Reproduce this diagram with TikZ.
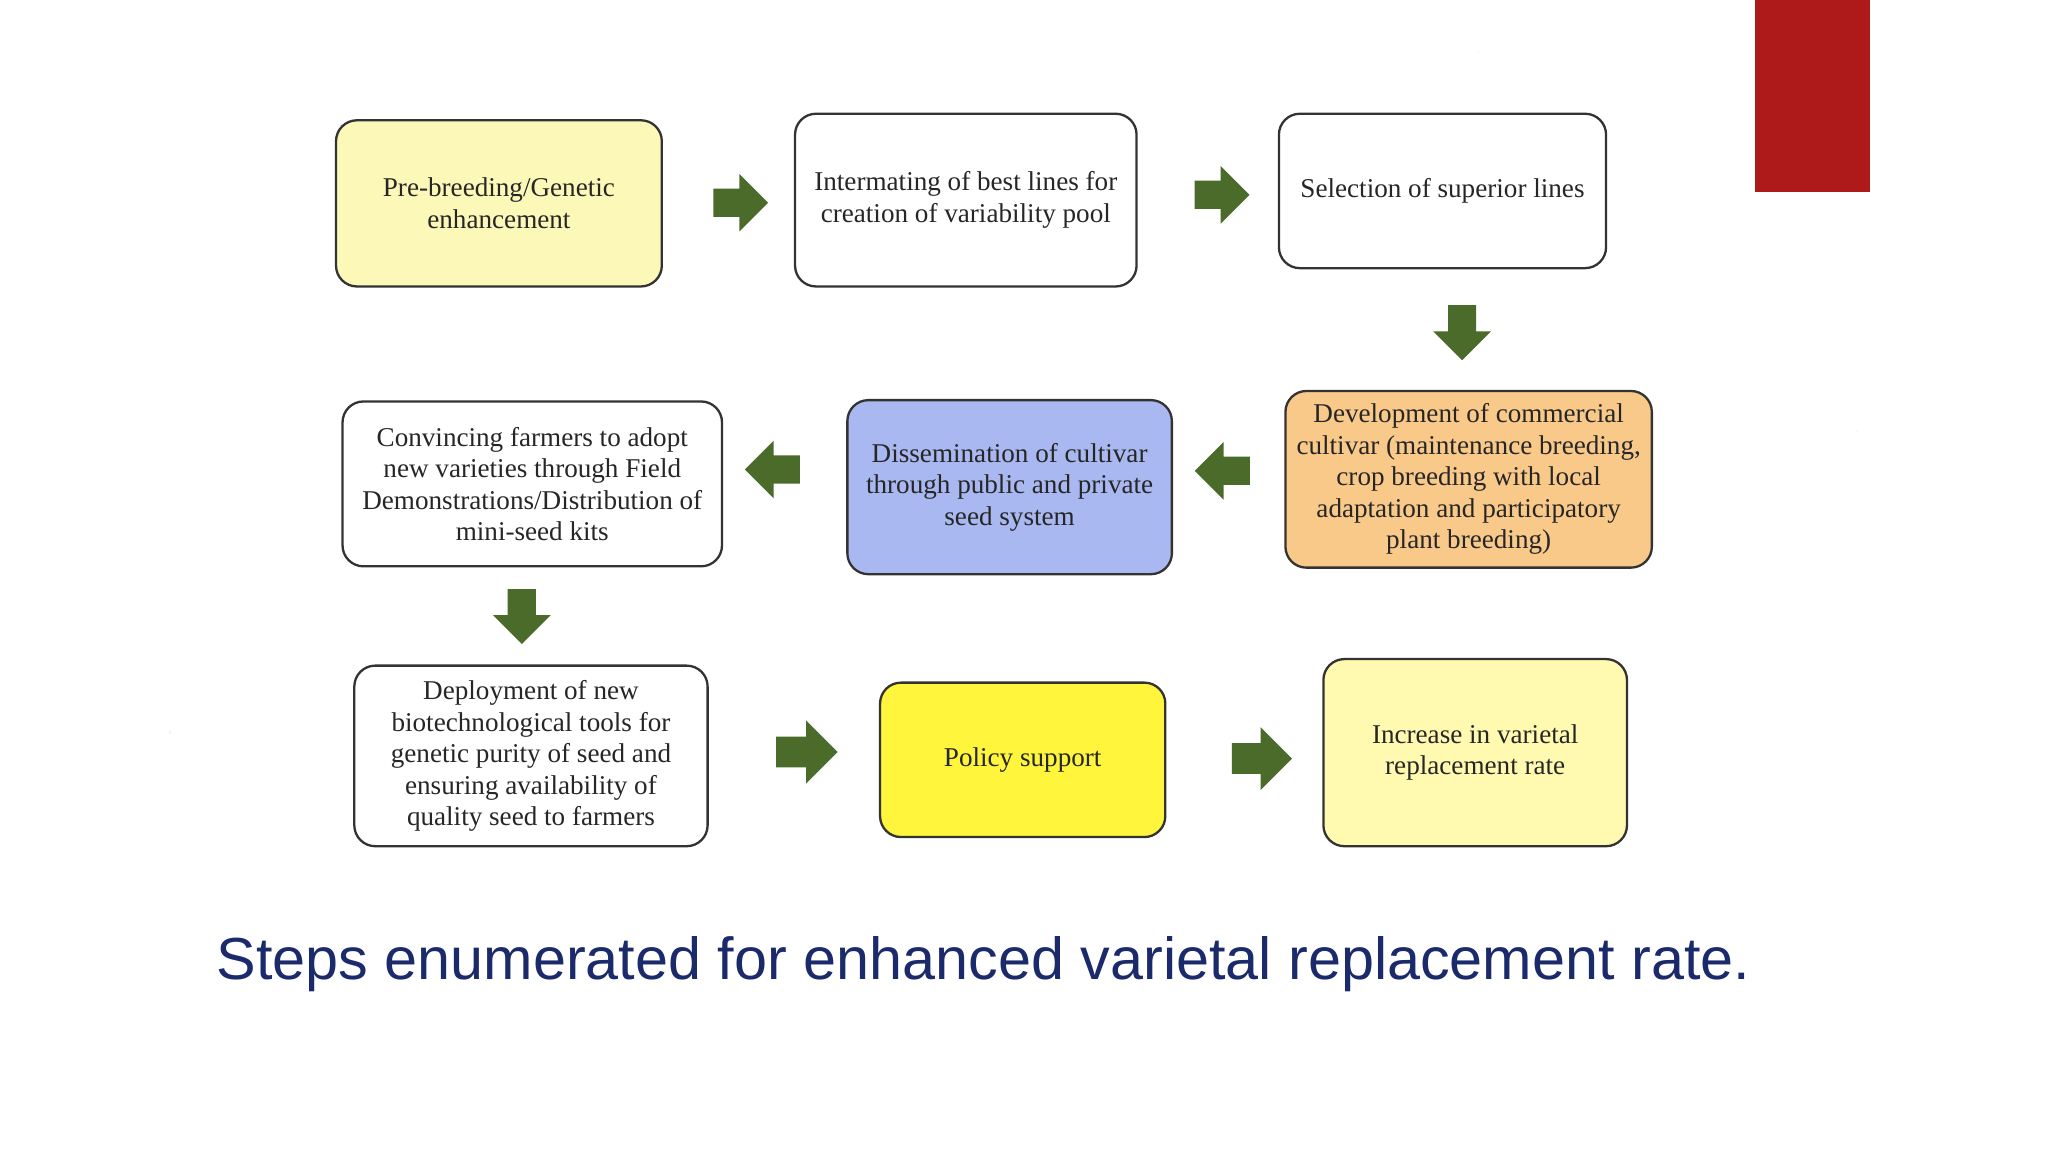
\documentclass[tikz,border=0pt]{standalone}
\usepackage{fontspec}
\setmainfont{Liberation Serif}
\newfontfamily\capfont{Liberation Sans}
\usetikzlibrary{shapes.arrows}
\definecolor{agreen}{HTML}{4A6B2A}
\definecolor{ylight}{HTML}{FCF8B8}
\definecolor{yvlight}{HTML}{FFFAB0}
\definecolor{ybright}{HTML}{FFF53C}
\definecolor{oran}{HTML}{F9C98A}
\definecolor{blu}{HTML}{A9B8F0}
\definecolor{capblue}{HTML}{1B2A6B}
\definecolor{redbar}{HTML}{AE1A1A}
\tikzset{
 stepbox/.style={draw=black!80, line width=0.5pt, rounded corners=1.6mm, align=center, inner sep=0pt, font=\fontsize{5.9}{6.85}\selectfont, text=black!85},
 garrow/.style={single arrow, fill=agreen, draw=none, minimum height=0.42cm, minimum width=0.44cm, single arrow head extend=0.08cm, inner sep=0.07cm}
}
\begin{document}
\begin{tikzpicture}[x=0.01cm,y=-0.01cm]
\useasboundingbox (0,0) rectangle (1566,881);
\fill[white] (0,0) rectangle (1566,881);
\fill[blue!8,opacity=0.5] (130,560) circle (1.3);
\fill[blue!6,opacity=0.5] (1420,330) circle (1.1);
\fill[blue!6,opacity=0.5] (1130,40) circle (0.8);
\fill[white] (240,80) rectangle (1290,665);
\fill[redbar] (1342,0) rectangle (1430,147);
\node[stepbox, fill=ylight, minimum width=2.49cm, minimum height=1.27cm] (a) at (381.5,155.5) {Pre-breeding/Genetic\\enhancement};
\node[stepbox, minimum width=2.61cm, minimum height=1.32cm] (b) at (738.5,153) {Intermating of best lines for\\creation of variability pool};
\node[stepbox, minimum width=2.50cm, minimum height=1.18cm] (c) at (1103,146) {Selection of superior lines};
\node[stepbox, fill=oran, minimum width=2.80cm, minimum height=1.35cm] (d) at (1123,366.5) {Development of commercial\\cultivar (maintenance breeding,\\crop breeding with local\\adaptation and participatory\\plant breeding)};
\node[stepbox, fill=blu, minimum width=2.48cm, minimum height=1.33cm] (e) at (772,372.5) {Dissemination of cultivar\\through public and private\\seed system};
\node[stepbox, minimum width=2.90cm, minimum height=1.26cm] (f) at (407,370) {Convincing farmers to adopt\\new varieties through Field\\Demonstrations/Distribution of\\mini-seed kits};
\node[stepbox, minimum width=2.70cm, minimum height=1.38cm] (g) at (406,578) {Deployment of new\\biotechnological tools for\\genetic purity of seed and\\ensuring availability of\\quality seed to farmers};
\node[stepbox, fill=ybright, minimum width=2.18cm, minimum height=1.18cm] (h) at (782,581) {Policy support};
\node[stepbox, fill=yvlight, minimum width=2.32cm, minimum height=1.43cm] (i) at (1128,575.5) {Increase in varietal\\replacement rate};
\node[garrow] (ab) at (561,155) {};
\node[garrow] (bc) at (929,149) {};
\node[garrow, shape border rotate=270] (cd) at (1118,249) {};
\node[garrow, shape border rotate=180] (de) at (940,360) {};
\node[garrow, shape border rotate=180] (ef) at (596,359) {};
\node[garrow, shape border rotate=270] (fg) at (399,466) {};
\node[garrow, minimum height=0.47cm, minimum width=0.48cm] (gh) at (611,575) {};
\node[garrow, minimum height=0.46cm, minimum width=0.48cm] (hi) at (959,580) {};
\node[text=capblue, font=\capfont\fontsize{12.9}{15}\selectfont] (cap) at (752,737) {Steps enumerated for enhanced varietal replacement rate.};
\end{tikzpicture}
\end{document}
